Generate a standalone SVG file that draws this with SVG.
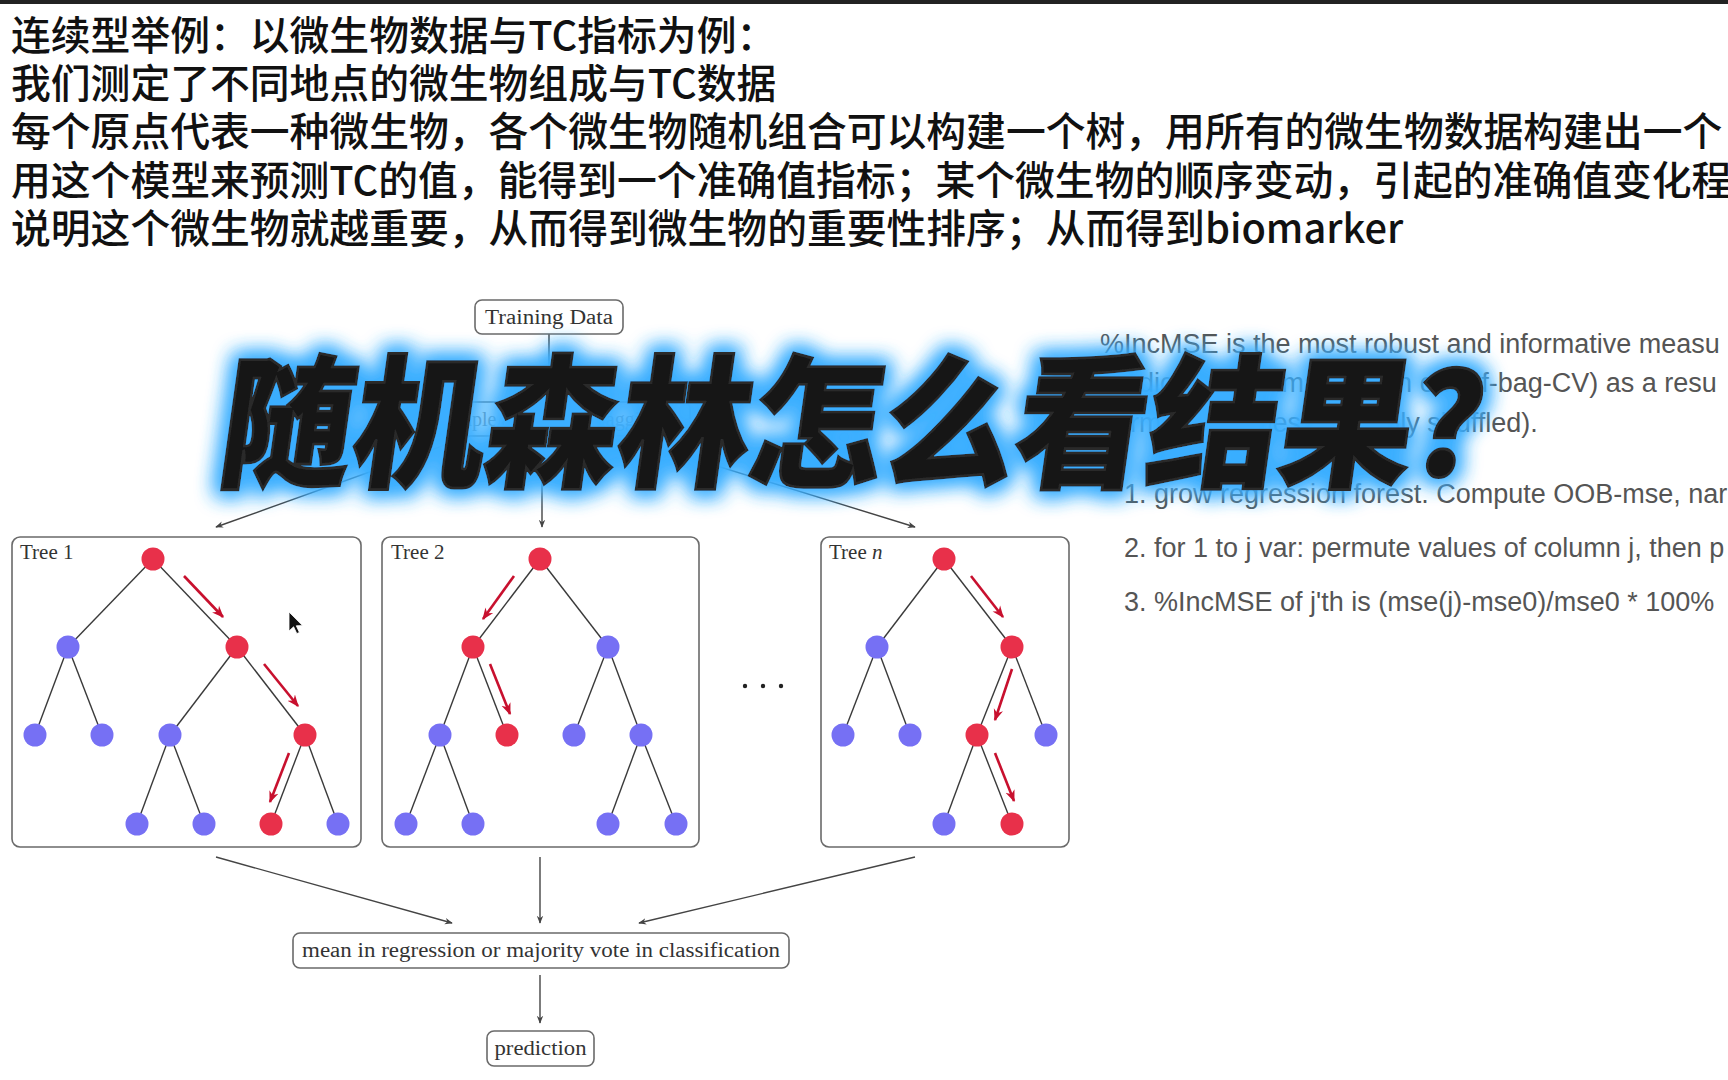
<svg xmlns="http://www.w3.org/2000/svg" width="1728" height="1080" viewBox="0 0 1728 1080">
<style>
.cn{font-family:"Noto Sans CJK SC","Noto Sans",sans-serif;font-size:39.8px;font-weight:500;fill:#111;}
.en{font-family:"Liberation Sans",Arial,sans-serif;font-size:27px;fill:#555;}
.tex{font-family:"Liberation Serif","DejaVu Serif",serif;font-size:20px;fill:#333;}
.lbl{font-family:"Liberation Serif","DejaVu Serif",serif;font-size:21px;fill:#333;}
.box{fill:#fff;stroke:#6a6a6a;stroke-width:1.6;}
.edge{stroke:#3a3a3a;stroke-width:1.4;fill:none;}
.con{stroke:#444;stroke-width:1.4;fill:none;marker-end:url(#ah);}
.rarr{stroke:#c8102e;stroke-width:2.6;fill:none;marker-end:url(#rh);}
.r{fill:#e8304a;}
.b{fill:#7670f4;}
.title{font-family:"Noto Sans CJK SC",sans-serif;font-weight:900;font-size:128px;}
</style>
<defs>
<marker id="ah" viewBox="0 0 10 10" refX="9" refY="5" markerWidth="8" markerHeight="8" orient="auto" markerUnits="userSpaceOnUse"><path d="M0,1 L10,5 L0,9 L3,5 z" fill="#444"/></marker>
<marker id="rh" viewBox="0 0 10 10" refX="9" refY="5" markerWidth="12" markerHeight="12" orient="auto" markerUnits="userSpaceOnUse"><path d="M0,1 L10,5 L0,9 L3,5 z" fill="#c8102e"/></marker>
<filter id="glow" x="-5%" y="-40%" width="110%" height="180%">
<feMorphology operator="dilate" radius="4" in="SourceAlpha" result="d"/>
<feGaussianBlur in="d" stdDeviation="10" result="bl"/>
<feFlood flood-color="#3aaeff"/>
<feComposite in2="bl" operator="in" result="g"/>
<feMerge><feMergeNode in="g"/><feMergeNode in="g"/><feMergeNode in="SourceGraphic"/></feMerge>
</filter>
</defs>
<rect x="0" y="0" width="1728" height="1080" fill="#fff"/>
<rect x="0" y="0" width="1728" height="4" fill="#222"/>

<g id="intro-text">
<text class="cn" x="11" y="50">连续型举例：以微生物数据与TC指标为例：</text>
<text class="cn" x="11" y="98">我们测定了不同地点的微生物组成与TC数据</text>
<text class="cn" x="11" y="146">每个原点代表一种微生物，各个微生物随机组合可以构建一个树，用所有的微生物数据构建出一个</text>
<text class="cn" x="11" y="195">用这个模型来预测TC的值，能得到一个准确值指标；某个微生物的顺序变动，引起的准确值变化程</text>
<text class="cn" x="11" y="243">说明这个微生物就越重要，从而得到微生物的重要性排序；从而得到biomarker</text>
</g>

<g id="incmse-text">
<text class="en" x="1100" y="353">%IncMSE is the most robust and informative measu</text>
<text class="en" x="1100" y="392">predictions(estimated with out-of-bag-CV) as a resu</text>
<text class="en" x="1100" y="432">permuted(values randomly shuffled).</text>
<text class="en" x="1124" y="503">1. grow regression forest. Compute OOB-mse, nar</text>
<text class="en" x="1124" y="557">2. for 1 to j var: permute values of column j, then p</text>
<text class="en" x="1124" y="611">3. %IncMSE of j'th is (mse(j)-mse0)/mse0 * 100%</text>
</g>

<g id="connectors">
<line class="edge" x1="549" y1="334" x2="549" y2="402"/>
<line class="con" x1="470" y1="436" x2="216" y2="527"/>
<line class="con" x1="542" y1="436" x2="542" y2="527"/>
<line class="con" x1="620" y1="436" x2="915" y2="527"/>
<line class="con" x1="216" y1="857" x2="452" y2="923"/>
<line class="con" x1="540" y1="857" x2="540" y2="923"/>
<line class="con" x1="915" y1="857" x2="639" y2="923"/>
<line class="con" x1="540" y1="975" x2="540" y2="1023"/>
</g>

<g id="training-data">
<rect class="box" x="475" y="300" width="148" height="34" rx="7"/>
<text class="tex" x="549" y="324" text-anchor="middle" textLength="128" lengthAdjust="spacingAndGlyphs">Training Data</text>
</g>

<g id="bagging">
<rect class="box" x="410" y="402" width="280" height="34" rx="7"/>
<text class="tex" x="550" y="426" text-anchor="middle" style="fill:#888">sample and feature bagging</text>
</g>

<g id="tree1">
<rect class="box" x="12" y="537" width="349" height="310" rx="8"/>
<text class="lbl" x="20" y="559">Tree 1</text>
<g class="edges">
<line class="edge" x1="153" y1="559" x2="68" y2="647"/><line class="edge" x1="153" y1="559" x2="237" y2="647"/>
<line class="edge" x1="68" y1="647" x2="35" y2="735"/><line class="edge" x1="68" y1="647" x2="102" y2="735"/>
<line class="edge" x1="237" y1="647" x2="170" y2="735"/><line class="edge" x1="237" y1="647" x2="305" y2="735"/>
<line class="edge" x1="170" y1="735" x2="137" y2="824"/><line class="edge" x1="170" y1="735" x2="204" y2="824"/>
<line class="edge" x1="305" y1="735" x2="271" y2="824"/><line class="edge" x1="305" y1="735" x2="338" y2="824"/>
</g>
<circle class="r" cx="153" cy="559" r="11.5"/>
<circle class="b" cx="68" cy="647" r="11.5"/><circle class="r" cx="237" cy="647" r="11.5"/>
<circle class="b" cx="35" cy="735" r="11.5"/><circle class="b" cx="102" cy="735" r="11.5"/><circle class="b" cx="170" cy="735" r="11.5"/><circle class="r" cx="305" cy="735" r="11.5"/>
<circle class="b" cx="137" cy="824" r="11.5"/><circle class="b" cx="204" cy="824" r="11.5"/><circle class="r" cx="271" cy="824" r="11.5"/><circle class="b" cx="338" cy="824" r="11.5"/>
<line class="rarr" x1="184" y1="576" x2="223" y2="617"/>
<line class="rarr" x1="264" y1="664" x2="298" y2="706"/>
<line class="rarr" x1="289" y1="753" x2="270" y2="802"/>
<path d="M289,612 l0,19 l4.6,-4.2 l3.2,6.8 l2.6,-1.2 l-3.1,-6.6 l6.2,-0.2 z" fill="#111" stroke="#fff" stroke-width="0.8"/>
</g>

<g id="tree2">
<rect class="box" x="382" y="537" width="317" height="310" rx="8"/>
<text class="lbl" x="391" y="559">Tree 2</text>
<g class="edges">
<line class="edge" x1="540" y1="559" x2="473" y2="647"/><line class="edge" x1="540" y1="559" x2="608" y2="647"/>
<line class="edge" x1="473" y1="647" x2="440" y2="735"/><line class="edge" x1="473" y1="647" x2="507" y2="735"/>
<line class="edge" x1="608" y1="647" x2="574" y2="735"/><line class="edge" x1="608" y1="647" x2="641" y2="735"/>
<line class="edge" x1="440" y1="735" x2="406" y2="824"/><line class="edge" x1="440" y1="735" x2="473" y2="824"/>
<line class="edge" x1="641" y1="735" x2="608" y2="824"/><line class="edge" x1="641" y1="735" x2="676" y2="824"/>
</g>
<circle class="r" cx="540" cy="559" r="11.5"/>
<circle class="r" cx="473" cy="647" r="11.5"/><circle class="b" cx="608" cy="647" r="11.5"/>
<circle class="b" cx="440" cy="735" r="11.5"/><circle class="r" cx="507" cy="735" r="11.5"/><circle class="b" cx="574" cy="735" r="11.5"/><circle class="b" cx="641" cy="735" r="11.5"/>
<circle class="b" cx="406" cy="824" r="11.5"/><circle class="b" cx="473" cy="824" r="11.5"/><circle class="b" cx="608" cy="824" r="11.5"/><circle class="b" cx="676" cy="824" r="11.5"/>
<line class="rarr" x1="514" y1="576" x2="483" y2="619"/>
<line class="rarr" x1="490" y1="664" x2="510" y2="714"/>
</g>

<g id="dots">
<circle cx="745" cy="686" r="2.2" fill="#222"/><circle cx="763" cy="686" r="2.2" fill="#222"/><circle cx="781" cy="686" r="2.2" fill="#222"/>
</g>

<g id="treen">
<rect class="box" x="821" y="537" width="248" height="310" rx="8"/>
<text class="lbl" x="829" y="559">Tree <tspan font-style="italic">n</tspan></text>
<g class="edges">
<line class="edge" x1="944" y1="559" x2="877" y2="647"/><line class="edge" x1="944" y1="559" x2="1012" y2="647"/>
<line class="edge" x1="877" y1="647" x2="843" y2="735"/><line class="edge" x1="877" y1="647" x2="910" y2="735"/>
<line class="edge" x1="1012" y1="647" x2="977" y2="735"/><line class="edge" x1="1012" y1="647" x2="1046" y2="735"/>
<line class="edge" x1="977" y1="735" x2="944" y2="824"/><line class="edge" x1="977" y1="735" x2="1012" y2="824"/>
</g>
<circle class="r" cx="944" cy="559" r="11.5"/>
<circle class="b" cx="877" cy="647" r="11.5"/><circle class="r" cx="1012" cy="647" r="11.5"/>
<circle class="b" cx="843" cy="735" r="11.5"/><circle class="b" cx="910" cy="735" r="11.5"/><circle class="r" cx="977" cy="735" r="11.5"/><circle class="b" cx="1046" cy="735" r="11.5"/>
<circle class="b" cx="944" cy="824" r="11.5"/><circle class="r" cx="1012" cy="824" r="11.5"/>
<line class="rarr" x1="971" y1="576" x2="1003" y2="617"/>
<line class="rarr" x1="1012" y1="669" x2="995" y2="720"/>
<line class="rarr" x1="995" y1="753" x2="1014" y2="801"/>
</g>

<g id="aggregate">
<rect class="box" x="293" y="933" width="496" height="35" rx="7"/>
<text class="tex" x="541" y="957" text-anchor="middle" textLength="478" lengthAdjust="spacingAndGlyphs">mean in regression or majority vote in classification</text>
</g>

<g id="prediction">
<rect class="box" x="487" y="1031" width="107" height="35" rx="7"/>
<text class="tex" x="540.5" y="1055" text-anchor="middle" textLength="92" lengthAdjust="spacingAndGlyphs">prediction</text>
</g>

<g id="title" filter="url(#glow)">
<text class="title" transform="translate(215,476) skewX(-8) scale(1.035,1.12)" fill="#161616" stroke="#2b2b2b" stroke-width="2.5">随机森林怎么看结果？</text>
</g>
</svg>
